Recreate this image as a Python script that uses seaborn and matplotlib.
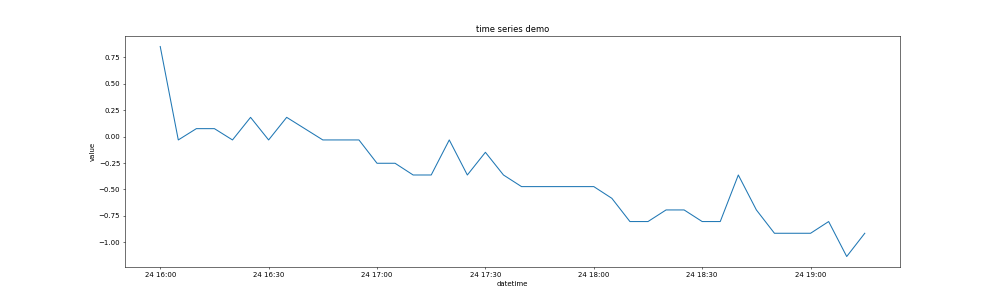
import matplotlib
matplotlib.use("Agg")
import matplotlib.pyplot as plt
import matplotlib.dates as mdates
import seaborn as sns
import pandas as pd

start = "2021-01-24 16:00"
n_points = 40
values = [0.854, -0.031, 0.076, 0.076, -0.031, 0.183, -0.031, 0.183, 0.076, -0.031,
          -0.031, -0.031, -0.252, -0.252, -0.363, -0.363, -0.031, -0.363, -0.148, -0.363,
          -0.473, -0.473, -0.473, -0.473, -0.473, -0.584, -0.804, -0.804, -0.694, -0.694,
          -0.804, -0.804, -0.363, -0.694, -0.915, -0.915, -0.915, -0.804, -1.135, -0.915]

times = pd.date_range(start, periods=n_points, freq="5min")
df = pd.DataFrame({"datetime": times, "value": values})

fig, ax = plt.subplots(figsize=(20, 6), dpi=50)
sns.lineplot(data=df, x="datetime", y="value", ax=ax)
ax.set_title("time series demo")
ax.xaxis.set_major_locator(mdates.MinuteLocator(byminute=[0, 30]))
ax.xaxis.set_major_formatter(mdates.DateFormatter("%d %H:%M"))
fig.savefig("out.png", dpi=50)
